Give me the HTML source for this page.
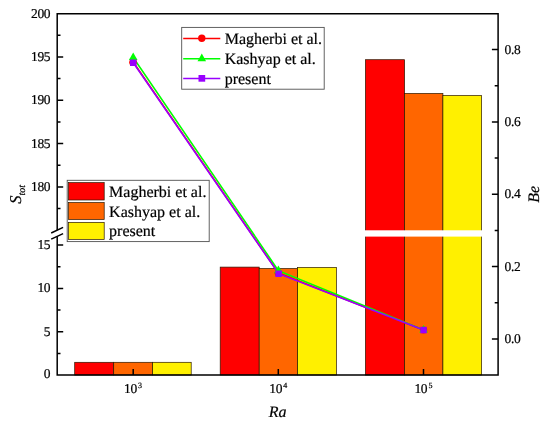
<!DOCTYPE html>
<html><head><meta charset="utf-8">
<style>
html,body{margin:0;padding:0;background:#fff;}
svg{display:block;}
text{font-family:"Liberation Serif",serif;fill:#000;stroke:#000;stroke-width:0.2px;text-rendering:geometricPrecision;}
.tl{font-size:13.5px;letter-spacing:-0.3px;}
.lg{font-size:16px;}
</style></head><body>
<svg width="550" height="429" viewBox="0 0 550 429">
<rect width="550" height="429" fill="#fff"/>
<!-- bars -->
<g stroke="#2a1800" stroke-width="0.7">
<rect x="74.7" y="362.3" width="39" height="12.7" fill="#ff0000"/>
<rect x="113.7" y="362.3" width="38.9" height="12.7" fill="#ff6600"/>
<rect x="152.6" y="362.3" width="38.6" height="12.7" fill="#fff000"/>
<rect x="220.2" y="267.1" width="39" height="107.9" fill="#ff0000"/>
<rect x="259.2" y="268.5" width="38.4" height="106.5" fill="#ff6600"/>
<rect x="297.6" y="267.4" width="38.8" height="107.6" fill="#fff000"/>
<rect x="365.4" y="59.7" width="39.2" height="315.3" fill="#ff0000"/>
<rect x="404.6" y="93.4" width="38.3" height="281.6" fill="#ff6600"/>
<rect x="442.9" y="95.5" width="38.7" height="279.5" fill="#fff000"/>
</g>
<rect x="360" y="230.3" width="125" height="6.3" fill="#fff"/>
<!-- axes -->
<g stroke="#000" stroke-width="1.5" fill="none" stroke-linecap="butt">
<path d="M57.2 230.2V13.7H498.1V375H57.2V236.2"/>
<path d="M51.2 233L63.1 227.4M51.2 239.1L63.1 233.6"/>
<!-- left major -->
<path d="M57.2 57h6M57.2 100.3h6M57.2 143.6h6M57.2 186.9h6M57.2 245.1h6M57.2 288.4h6M57.2 331.7h6"/>
<!-- left minor -->
<path d="M57.2 35.3h3.3M57.2 78.6h3.3M57.2 122h3.3M57.2 165.3h3.3M57.2 208.6h3.3M57.2 266.8h3.3M57.2 310.1h3.3M57.2 353.5h3.3"/>
<!-- right major -->
<path d="M498.1 49.6h-6.2M498.1 121.9h-6.2M498.1 194.3h-6.2M498.1 266.6h-6.2M498.1 338.9h-6.2"/>
<path d="M498.1 85.8h-3.4M498.1 158.1h-3.4M498.1 230.4h-3.4M498.1 302.7h-3.4"/>
<!-- bottom -->
<path d="M133.2 375v-6M278.3 375v-6M423.5 375v-6"/>
</g>
<!-- lines -->
<g fill="none" stroke-width="1.55">
<polyline points="133.2,62 278.4,273 423.6,330" stroke="#ff0000"/>
<polyline points="133.2,57.5 278.4,270.6 423.6,330" stroke="#00ff00"/>
<polyline points="133.3,62.7 278.6,273.6 423.6,330" stroke="#9900ff"/>
</g>
<g fill="#ff0000"><circle cx="133" cy="62.2" r="3.8"/><circle cx="278.4" cy="273.2" r="3.7"/><circle cx="423.6" cy="330" r="3.6"/></g>
<g fill="#00ff00">
<path d="M133.2 52.4l4.3 7.6h-8.6z"/><path d="M278.4 265.6l4.3 7.6h-8.6z"/><path d="M423.6 325l4.3 7.6h-8.6z"/>
</g>
<g fill="#9900ff">
<rect x="130" y="59.5" width="6.5" height="6.5"/><rect x="275.4" y="270.5" width="6.5" height="6.5"/><rect x="420.3" y="326.8" width="6.5" height="6.5"/>
</g>
<!-- tick labels -->
<g class="tl" text-anchor="end">
<text x="50.3" y="17.7">200</text><text x="50.3" y="61.0">195</text><text x="50.3" y="104.3">190</text><text x="50.3" y="147.6">185</text><text x="50.3" y="190.9">180</text>
<text x="50.3" y="249.0">15</text><text x="50.3" y="292.3">10</text><text x="50.3" y="335.6">5</text><text x="50.3" y="378.4">0</text>
</g>
<g class="tl">
<text x="504.5" y="53.9">0.8</text><text x="504.5" y="126.2">0.6</text><text x="504.5" y="198.3">0.4</text><text x="504.5" y="270.9">0.2</text><text x="504.5" y="343.2">0.0</text>
</g>
<g class="tl">
<text x="124.1" y="393.2">10<tspan dx="1.1" dy="-5.1" font-size="8">3</tspan></text>
<text x="269.2" y="393.2">10<tspan dx="1.1" dy="-5.1" font-size="8">4</tspan></text>
<text x="414.4" y="393.2">10<tspan dx="1.1" dy="-5.1" font-size="8">5</tspan></text>
</g>
<text x="268.7" y="416.9" font-size="16" font-style="italic">Ra</text>
<text transform="translate(20.5,203.8) rotate(-90)" font-size="16.5" font-style="italic">S<tspan dy="4" font-size="10">tot</tspan></text>
<text transform="translate(538.7,202.7) rotate(-90)" font-size="16" font-style="italic">Be</text>
<!-- legend 1 -->
<rect x="181.7" y="27.4" width="142.5" height="61.8" fill="#fff" stroke="#505050" stroke-width="0.9"/>
<g stroke-width="1.5">
<path d="M183.2 38.4h37.1" stroke="#ff0000"/><path d="M183.2 58.7h37.1" stroke="#00ff00"/><path d="M183.2 78.4h37.1" stroke="#9900ff"/>
</g>
<circle cx="201.8" cy="38.3" r="3.7" fill="#ff0000"/>
<path d="M201.8 53.6l4.3 7.6h-8.6z" fill="#00ff00"/>
<rect x="198.5" y="75" width="6.7" height="6.7" fill="#9900ff"/>
<g class="lg"><text x="224.7" y="43.5">Magherbi et al.</text><text x="224.7" y="63.8">Kashyap et al.</text><text x="224.7" y="84">present</text></g>
<!-- legend 2 -->
<rect x="67.2" y="180.3" width="142" height="61.3" fill="#fff" stroke="#505050" stroke-width="0.9"/>
<g stroke="#2a1800" stroke-width="0.7">
<rect x="68.5" y="182.6" width="35.7" height="17.4" fill="#ff0000"/>
<rect x="68.5" y="202.5" width="35.7" height="17" fill="#ff6600"/>
<rect x="68.5" y="222.4" width="35.7" height="17" fill="#fff000"/>
</g>
<g class="lg"><text x="109.1" y="196.5">Magherbi et al.</text><text x="109.1" y="216.5">Kashyap et al.</text><text x="109.1" y="236.3">present</text></g>
</svg>
</body></html>
